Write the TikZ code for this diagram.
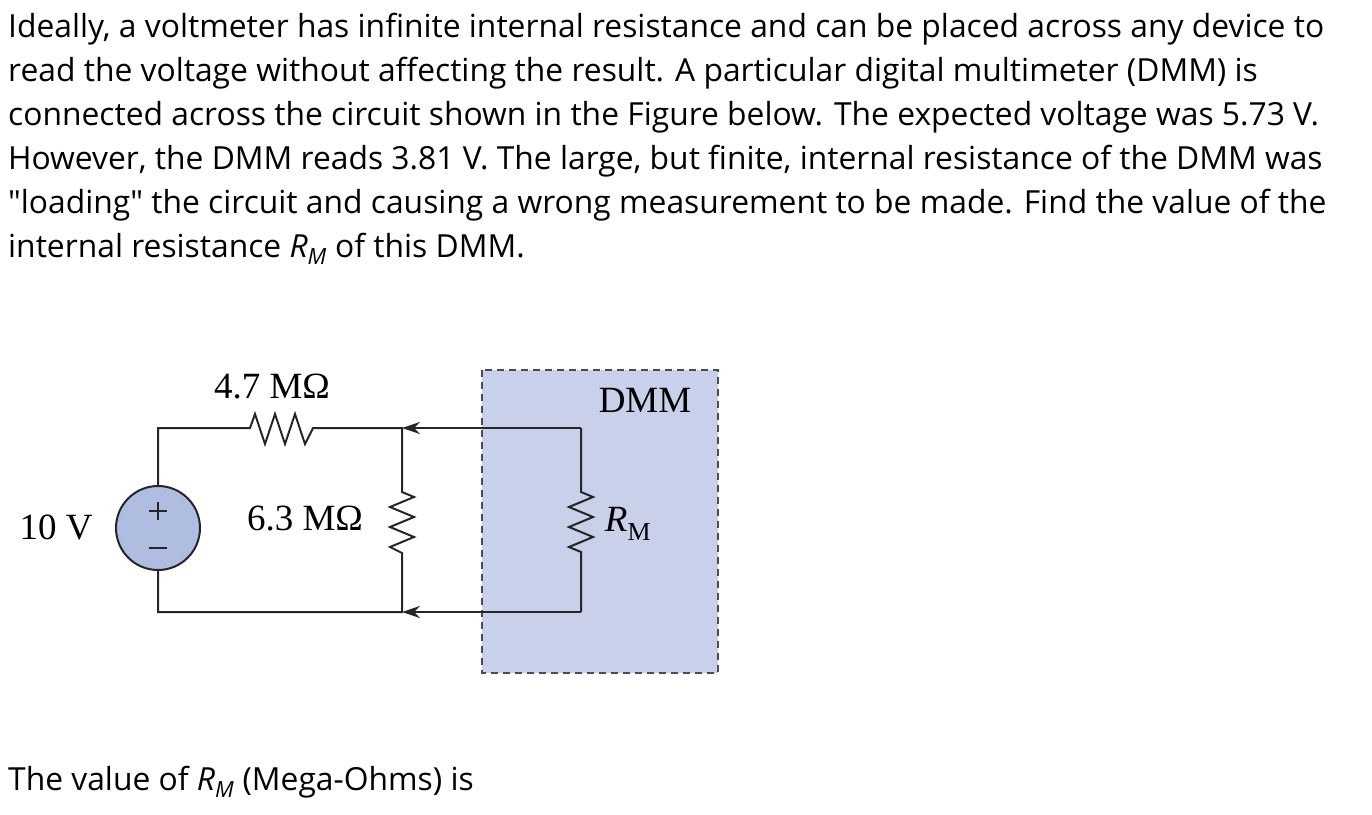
\documentclass[tikz,border=0pt]{standalone}
\usepackage{fontspec}
\setmainfont{Open Sans}
\newfontfamily\circfont{Liberation Serif}
\usetikzlibrary{arrows.meta}
\definecolor{dmmfill}{HTML}{C8D0EA}
\definecolor{srcfill}{HTML}{AFBDE0}
\newcommand{\RMtext}{\textit{R}\textsubscript{\textit{M}}}
\begin{document}
\begin{tikzpicture}[x=1pt,y=-1pt,
  wire/.style={line width=2pt,black!85},
  lbl/.style={font=\circfont\fontsize{37}{37}\selectfont,inner sep=0pt},
  txt/.style={font=\fontsize{31.8}{31.8}\selectfont,anchor=base west,inner sep=0pt},
  probe/.style={wire,-{Stealth[length=18pt,width=12pt]}}]
\useasboundingbox (0,0) rectangle (1372,814);
% text
\node[txt] (l1) at (8,37) {Ideally, a voltmeter has infinite internal resistance and can be placed across any device to};
\node[txt] (l2) at (8,81) {read the voltage without affecting the result. A particular digital multimeter (DMM) is};
\node[txt] (l3) at (8,125) {connected across the circuit shown in the Figure below. The expected voltage was 5.73 V.};
\node[txt] (l4) at (8,169) {However, the DMM reads 3.81 V. The large, but finite, internal resistance of the DMM was};
\node[txt] (l5) at (8,213) {\textquotedbl loading\textquotedbl{} the circuit and causing a wrong measurement to be made. Find the value of the};
\node[txt] (l6) at (8,257) {internal resistance \RMtext{} of this DMM.};
\node[txt] (l7) at (8,790) {The value of \RMtext{} (Mega-Ohms) is};
% DMM box
\fill[dmmfill] (482,370) rectangle (718,673);
\draw[black!70,line width=1.4pt,dash pattern=on 7pt off 5pt] (482,370) rectangle (718,673);
% coordinates
\coordinate (tl) at (158,428);
\coordinate (bl) at (158,612);
\coordinate (tm) at (402,428);
\coordinate (bm) at (402,612);
\coordinate (tr) at (581,428);
\coordinate (br) at (581,612);
% source
\node[circle,draw=black!85,line width=2pt,fill=srcfill,minimum size=84pt,inner sep=0pt] (src) at (158,528) {};
\draw[wire] (158,502) -- (158,520) (149,511) -- (167,511);
\draw[wire] (149,548) -- (167,548);
% wires
\draw[wire] (src.north) -- (tl) -- (250,428)
  -- (255,414) -- (265,444) -- (275,414) -- (285,444) -- (295,414) -- (305,444) -- (313,428) -- (tm)
  -- (402,492) -- (414,497) -- (390,507) -- (414,517) -- (390,527) -- (414,537) -- (390,547) -- (402,553) -- (bm) -- (bl) -- (src.south);
\draw[wire] (br) -- (581,552) -- (569,547) -- (593,537) -- (569,527) -- (593,517) -- (569,507) -- (593,497) -- (581,492) -- (tr);
\draw[probe] (tr) -- (tm);
\draw[probe] (br) -- (bm);
% labels
\node[lbl] (r1) at (272,387) {4.7 MΩ};
\node[lbl] (r2) at (305,519) {6.3 MΩ};
\node[lbl] (v) at (56,527) {10 V};
\node[lbl] (dmm) at (645,400) {DMM};
\node[lbl] (rm) at (628,524) {\textit{R}\textsubscript{M}};
\end{tikzpicture}
\end{document}
